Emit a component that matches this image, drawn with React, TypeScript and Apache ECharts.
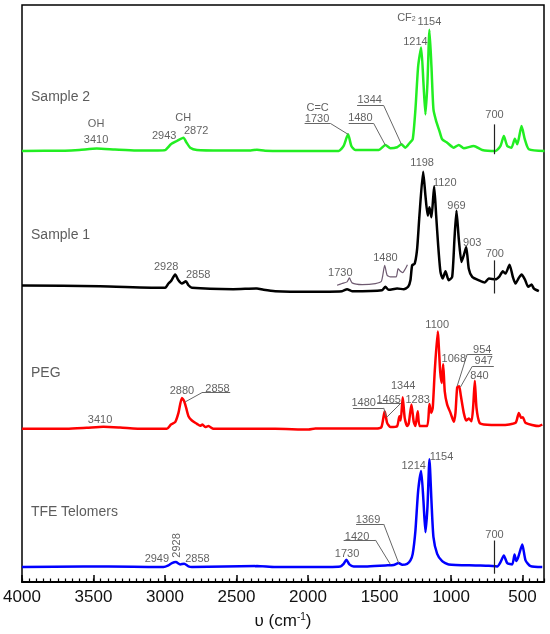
import React, { useEffect, useRef } from "react";
import * as echarts from "echarts";

// wavenumber (cm-1), relative intensity (plot units)
const SAMPLE2: number[][] = [
  [4000, 0], [3700, 0.3], [3600, 1], [3477, 2.5], [3350, 1.5], [3200, 0.5], [3050, 0.5], [3000, 0.8],
  [2959, 6.7], [2917, 10], [2871, 13.3], [2852, 9], [2824, 3.3], [2777, 1], [2600, 0.5], [2400, 0.5],
  [2357, 1.2], [2300, 0.3], [2000, 0], [1786, 0], [1751, 5], [1720, 16.7], [1697, 5], [1669, 1],
  [1506, 1], [1459, 6], [1424, 2.7], [1377, 3.7], [1347, 6.7], [1319, 3.3], [1291, 7.7], [1268, 11.7],
  [1249, 41.7], [1230, 85], [1209, 104], [1193, 68.7], [1179, 36.7], [1165, 68.3], [1151, 121.7],
  [1137, 85], [1123, 41.7], [1104, 30], [1081, 20], [1062, 11.7], [1027, 8.3], [981, 3.3], [946, 6],
  [911, 2.7], [841, 5], [782, 1], [689, 0], [654, 5], [631, 15], [607, 5], [577, 3.3], [554, 12.3],
  [537, 6.7], [507, 25], [484, 11.7], [456, 1.7], [346, 0],
];
const SAMPLE1: number[][] = [
  [4000, 0], [3454, -0.7], [2999, -2.3], [2976, 2], [2959, 4.3], [2929, 11], [2906, 5.3], [2882, 2],
  [2854, 4.3], [2836, 0.3], [2812, -2.3], [2523, -3.7], [2357, -3], [2311, -4.3], [2229, -5.7],
  [1996, -6.3], [1762, -5.7], [1727, -3.7], [1692, -5.7], [1482, -4.7], [1459, -1.3], [1436, -4.3],
  [1377, -3], [1331, -3.7], [1300, -1.3], [1284, 5.3], [1272, 20.3], [1254, 22], [1237, 37],
  [1221, 70.3], [1195, 114.3], [1179, 90.3], [1163, 70.3], [1151, 78.7], [1137, 68.7], [1118, 99.7],
  [1104, 70.3], [1090, 40.3], [1074, 13.7], [1058, 7], [1039, 14.3], [1016, 5.3], [992, 8.7],
  [976, 47], [962, 75.3], [946, 47], [927, 23.7], [911, 30.3], [894, 38.7], [876, 17], [852, 8.7],
  [806, 5.3], [764, 3], [736, 7], [689, 6.3], [661, 9.3], [638, 14.3], [619, 12], [591, 21],
  [568, 8.7], [549, 2], [526, 7.7], [507, 11], [484, 6.3], [460, -1.3], [437, 1], [421, -3], [386, -5.7],
];
const SAMPLE1_INSET: number[][] = [
  [1797, 0.3], [1762, 2], [1727, 3.7], [1711, 7.7], [1692, 2.7], [1622, 1], [1529, 2], [1487, 4.3],
  [1464, 20.3], [1447, 10.3], [1424, 8.7], [1384, 8.7], [1370, 17], [1354, 14.3], [1338, 13],
  [1324, 15.7], [1305, 21],
];
const PEG: number[][] = [
  [4000, 0], [3687, 0], [3547, 1], [3431, 2], [3314, 1.3], [3151, 0], [2987, 0], [2959, 4.3],
  [2929, 6.7], [2906, 16], [2882, 31], [2866, 27.7], [2852, 21], [2836, 12.7], [2812, 8.3],
  [2777, 5], [2754, 3], [2738, 4.3], [2719, 1.7], [2696, 2.7], [2661, 0], [2229, 0], [1996, -0.7],
  [1949, 0.3], [1529, 0.3], [1487, 1.7], [1464, 17.7], [1447, 6], [1424, 1.7], [1377, 2.7],
  [1361, 12.7], [1352, 8.3], [1338, 31.7], [1324, 11], [1307, 2.7], [1296, 5], [1277, 24.3],
  [1261, 7], [1249, 2.7], [1233, 17.7], [1219, 2.7], [1167, 2.7], [1151, 25], [1139, 16], [1128, 21],
  [1114, 57.7], [1093, 97.7], [1076, 57.7], [1065, 46], [1055, 65], [1044, 37.7], [1027, 24.3],
  [1004, 16], [981, 7], [969, 16], [957, 41.7], [943, 42.7], [932, 33.7], [911, 16], [894, 8.3],
  [876, 10.3], [857, 7.7], [845, 22.7], [834, 48.3], [822, 21], [801, 6], [771, 4.3], [642, 3.7],
  [549, 6], [526, 16], [509, 11], [498, 11.7], [479, 6], [386, 2.7], [362, 4.3],
];
const TFE: number[][] = [
  [4000, 0], [3571, 0.7], [3221, 0.3], [3011, 0], [2976, 1.7], [2952, 4], [2924, 5], [2894, 2.7],
  [2866, 3.3], [2836, 0.7], [2812, 0], [2357, 1], [2229, 0], [1996, 0], [1774, 0.7], [1751, 3.3],
  [1732, 7.3], [1711, 2.7], [1681, 0.7], [1599, 0.7], [1459, 1.7], [1401, 2], [1366, 4], [1342, 2.3],
  [1307, 3.3], [1284, 6.7], [1268, 13.3], [1249, 36.7], [1230, 76.7], [1209, 96.7], [1193, 66.7],
  [1179, 35], [1165, 60], [1151, 108.3], [1137, 66.7], [1123, 30], [1097, 13.3], [1062, 6],
  [1016, 2.7], [829, 1.7], [736, 1.3], [677, 0.7], [654, 5], [631, 11.7], [607, 4], [572, 2.7],
  [556, 12.7], [544, 6], [530, 10], [502, 22.7], [479, 6.7], [444, 1], [362, 0],
];

// vertical offsets of the stacked spectra
const OFFSET_SAMPLE2 = 433.3;
const OFFSET_SAMPLE1 = 298;
const OFFSET_PEG = 154;
const OFFSET_TFE = 15;

// x range (wavenumber, decreasing to the right) and tick spacing
const X_MIN = 350;
const X_MAX = 4000;
const MAJOR_STEP = 500;
const MINOR_STEP = 50;

// annotations: text, wavenumber, y, kind
const LABELS: [string, number, number, string?][] = [
  ["Sample 2", 3937, 489, "name"],
  ["OH", 3482, 461], ["3410", 3482, 445], ["CH", 2873, 467], ["2943", 3006, 449], ["2872", 2782, 454],
  ["C=C", 1933, 477], ["1730", 1937, 466], ["1480", 1634, 467.7], ["1344", 1569, 486],
  ["CF2", 1312, 568.3, "cf2"], ["1154", 1151, 564], ["1214", 1249, 544.3], ["700", 696, 470],
  ["Sample 1", 3937, 350, "name"],
  ["2928", 2992, 318], ["2858", 2768, 310], ["1730", 1774, 311.7], ["1480", 1459, 326.7],
  ["1198", 1202, 421.7], ["1120", 1044, 402.3], ["969", 962, 379], ["903", 852, 341.7], ["700", 694, 330.7],
  ["PEG", 3937, 211, "name"],
  ["3410", 3454, 164.3], ["2880", 2882, 193], ["2858", 2633, 195], ["1480", 1611, 181], ["1465", 1436, 184.3],
  ["1344", 1335, 197.7], ["1283", 1233, 184.3], ["1100", 1097, 259], ["1068", 981, 225],
  ["954", 782, 234.3], ["947", 771, 223], ["840", 801, 207.7],
  ["TFE Telomers", 3937, 71, "name"],
  ["2949", 3057, 24.3], ["2928", 2922, 36.7, "rot"], ["2858", 2773, 24.3], ["1730", 1727, 29],
  ["1420", 1657, 46.7], ["1369", 1580, 63.3], ["1214", 1261, 117.7], ["1154", 1067, 127], ["700", 696, 48.3],
];

const LEADERS: number[][][] = [
  [[2024, 461], [1844, 461], [1720, 450]],
  [[1716, 461], [1541, 461], [1459, 439]],
  [[1657, 479], [1471, 479], [1347, 440]],
  [[2544, 190.3], [2742, 190.3], [2859, 181]],
  [[1685, 175], [1471, 175], [1452, 166]],
  [[1517, 180], [1349, 180], [1447, 166]],
  [[712, 229], [887, 229], [957, 197]],
  [[701, 216.7], [852, 216.7], [934, 196]],
  [[1751, 42.3], [1529, 42.3], [1424, 17.7]],
  [[1664, 58.3], [1471, 58.3], [1366, 19]],
];
const MARK_700: number[][][] = [
  [[696, 460], [696, 430]],
  [[696, 323.3], [696, 290]],
  [[696, 41.7], [696, 8.3]],
];

const FONT = 'Arial, "Liberation Sans", sans-serif';

const shift = (arr: number[][], off: number) => arr.map(([x, y]) => [x, y + off]);

export default function App() {
  const ref = useRef<HTMLDivElement>(null);
  useEffect(() => {
    document.body.style.margin = "0";
    const chart = echarts.init(ref.current!, undefined, { renderer: "svg" });

    const segs = (polys: number[][][]) => {
      const out: any[] = [];
      polys.forEach((p) => {
        for (let i = 0; i < p.length - 1; i++) out.push([{ coord: p[i] }, { coord: p[i + 1] }]);
      });
      return out;
    };

    const labelData = LABELS.map(([text, x, y, kind]) => {
      const item: any = { name: text, value: [x, y] };
      if (kind === "name") {
        item.label = { align: "left", fontSize: 14, color: "#333" };
      } else if (kind === "rot") {
        item.label = { rotate: 90 };
      }
      return item;
    });

    const lineSeries = (name: string, data: number[][], color: string, width = 2.5, z = 2) => ({
      name,
      type: "line",
      xAxisIndex: 0,
      data,
      showSymbol: false,
      symbol: "none",
      smooth: 0.2,
      z,
      lineStyle: { color, width },
      silent: true,
    });

    const span = X_MAX - X_MIN;

    chart.setOption({
      animation: false,
      grid: { left: 22, right: 6, top: 5, bottom: 49, show: true, borderColor: "#000", borderWidth: 1.5 },
      xAxis: [
        {
          type: "value",
          min: X_MIN,
          max: X_MAX,
          inverse: true,
          position: "bottom",
          axisLine: { show: true, onZero: false, lineStyle: { color: "#000", width: 2 } },
          axisTick: { show: false },
          axisLabel: { show: false },
          splitLine: { show: false },
          name: "{a|υ (cm}{s|-1}{a|)}",
          nameLocation: "middle",
          nameGap: 29,
          nameTextStyle: {
            rich: {
              a: { fontSize: 17, color: "#111", fontFamily: FONT },
              s: { fontSize: 10, color: "#111", fontFamily: FONT, verticalAlign: "top", padding: [0, 0, 9, 0] },
            },
          },
        },
        {
          // distance from 4000 cm-1: major ticks + labels
          type: "value",
          min: 0,
          max: span,
          interval: MAJOR_STEP,
          position: "bottom",
          axisLine: { show: false, onZero: false },
          axisTick: { show: true, inside: true, length: 7, lineStyle: { color: "#000", width: 1.5 } },
          axisLabel: {
            show: true,
            showMaxLabel: false,
            fontSize: 17,
            color: "#111",
            margin: 6,
            fontFamily: FONT,
            formatter: (u: number) => String(X_MAX - u),
          },
          splitLine: { show: false },
        },
        {
          // minor ticks
          type: "value",
          min: 0,
          max: span,
          interval: MINOR_STEP,
          position: "bottom",
          axisLine: { show: false, onZero: false },
          axisTick: { show: true, inside: true, length: 3.5, lineStyle: { color: "#000", width: 1.2 } },
          axisLabel: { show: false },
          splitLine: { show: false },
        },
      ],
      yAxis: { type: "value", min: 0, max: 580, show: false, splitLine: { show: false } },
      series: [
        lineSeries("Sample 2", shift(SAMPLE2, OFFSET_SAMPLE2), "#22ee22"),
        lineSeries("Sample 1", shift(SAMPLE1, OFFSET_SAMPLE1), "#000000"),
        lineSeries("Sample 1 inset", shift(SAMPLE1_INSET, OFFSET_SAMPLE1), "#6e5a70", 1.2, 3),
        lineSeries("PEG", shift(PEG, OFFSET_PEG), "#ff0000"),
        lineSeries("TFE Telomers", shift(TFE, OFFSET_TFE), "#0000ff"),
        {
          name: "labels",
          type: "scatter",
          xAxisIndex: 0,
          symbolSize: 1,
          silent: true,
          z: 5,
          data: labelData,
          itemStyle: { color: "rgba(0,0,0,0)" },
          label: {
            show: true,
            position: "inside",
            fontSize: 11,
            color: "#3a3a3a",
            fontFamily: FONT,
            formatter: (p: any) => (p.name === "CF2" ? "{a|CF}{s|2}" : p.name),
            rich: {
              a: { fontSize: 11, color: "#3a3a3a", fontFamily: FONT },
              s: { fontSize: 7, color: "#3a3a3a", fontFamily: FONT, verticalAlign: "bottom" },
            },
          },
          labelLayout: { hideOverlap: false },
          markLine: {
            silent: true,
            symbol: ["none", "none"],
            label: { show: false },
            lineStyle: { color: "#666", width: 1, type: "solid" },
            data: [
              ...segs(LEADERS),
              ...segs(MARK_700).map((s) => [{ ...s[0], lineStyle: { color: "#222", width: 1.2 } }, s[1]]),
            ],
          },
        },
      ],
    });
    return () => chart.dispose();
  }, []);
  return <div ref={ref} style={{ position: "fixed", left: 0, top: 0, width: 550, height: 634 }} />;
}
